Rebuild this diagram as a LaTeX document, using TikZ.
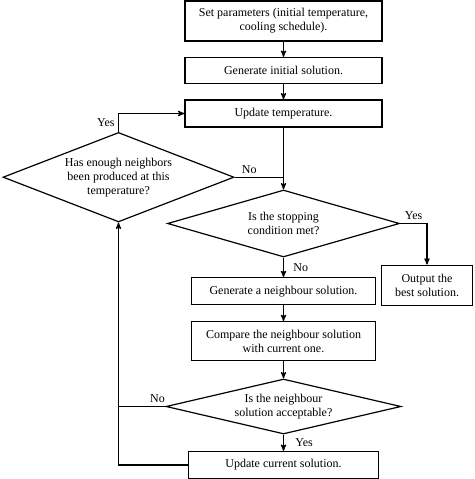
\documentclass[tikz,border=0pt]{standalone}
\usepackage{fontspec}
\setmainfont{Liberation Serif}
\usetikzlibrary{shapes.geometric}
\usetikzlibrary{positioning}
\usetikzlibrary{arrows}
\tikzset{
    every node/.style={
        font=\fontsize{12}{14}\selectfont},
    process/.style={
        draw,
        line width=1.2pt,
        align=center,
        inner sep=1pt},
    decision/.style={
        draw,
        diamond,
        line width=1.2pt,
        align=center,
        inner sep=0pt},
    every edge/.style={
        draw,
        ->,>=stealth',
        line width=1.2pt},
    flow/.style={
        ->,>=stealth',
        line width=1.2pt}}

\begin{document}
\begin{tikzpicture}[x=1pt,y=-1pt]
        \useasboundingbox (0,0) rectangle (474,479);

        \node[process,minimum width=197pt,minimum height=40pt] (set) at (283.5,21) {Set parameters (initial temperature,\\cooling schedule).};
        \node[process,node distance=49.5pt,below of=set,minimum width=197pt,minimum height=26pt] (init) {Generate initial solution.};
        \node[process,node distance=43pt,below of=init,minimum width=197pt,minimum height=27pt] (temp) {Update temperature.};
        \node[decision,aspect=3.46,node distance=110pt,below of=temp,minimum width=232pt,minimum height=67pt] (stop) {Is the stopping\\condition met?};
        \node[decision,aspect=2.58,node distance=63.7pt,below of=temp,xshift=-165pt,minimum width=231pt,minimum height=89.5pt] (enough) {Has enough neighbors\\been produced at this\\temperature?};
        \node[process,node distance=61.7pt,below of=stop,xshift=143.5pt,minimum width=91pt,minimum height=40pt] (out) {Output the\\best solution.};
        \node[process,node distance=67.7pt,below of=stop,minimum width=184pt,minimum height=27pt] (neigh) {Generate a neighbour solution.};
        \node[process,node distance=50pt,below of=neigh,minimum width=184pt,minimum height=39pt] (comp) {Compare the neighbour solution\\with current one.};
        \node[decision,aspect=4.27,node distance=65.3pt,below of=comp,minimum width=235pt,minimum height=55pt] (acc) {Is the neighbour\\solution acceptable?};
        \node[process,node distance=58.5pt,below of=acc,minimum width=190pt,minimum height=27pt] (cur) {Update current solution.};

        \draw (set) edge (init);
        \draw (init) edge (temp);
        \draw (temp) edge (stop);

        \draw[line width=1.2pt] (enough.east) -- node[above,pos=0.3] {No} (enough.east -| stop.north);
        \draw[flow] (enough.north) |- node[left,pos=0.25] {Yes} (temp.west);

        \draw[flow] (stop.east) -| node[above,pos=0.25] {Yes} (out.north);
        \draw (stop) edge node[right=6pt] {No} (neigh);

        \draw (neigh) edge (comp);
        \draw (comp) edge (acc);
        \draw (acc) edge node[right=8pt] {Yes} (cur);

        \draw[line width=1.2pt] (acc.west) -- node[above,pos=0.17] {No} (acc.west -| enough.south);
        \draw[flow] (cur.west) -| (enough.south);
    \end{tikzpicture}
\end{document}
